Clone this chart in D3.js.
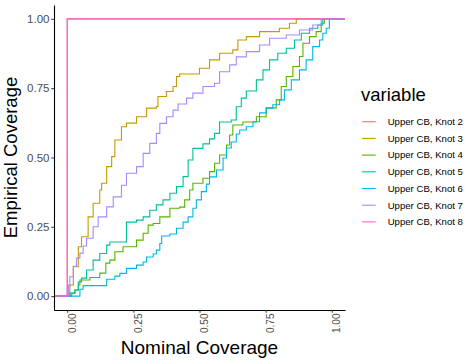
<!DOCTYPE html>
<html>
<head>
<meta charset="utf-8">
<script src="https://cdn.jsdelivr.net/npm/d3@7"></script>
<style>
  body { margin: 0; background: #fff; }
  text { font-family: "Liberation Sans", Arial, sans-serif; }
</style>
</head>
<body>
<script>
// series names, same order as the legend (ggplot default hue palette)
var variables = ["Upper CB, Knot 2", "Upper CB, Knot 3", "Upper CB, Knot 4", "Upper CB, Knot 5",
                 "Upper CB, Knot 6", "Upper CB, Knot 7", "Upper CB, Knot 8"];
var colors = ["#F8766D", "#C49A00", "#53B400", "#00C094", "#00B6EB", "#A58AFF", "#FB61D7"];

var xTicks = [0, 0.25, 0.5, 0.75, 1];
var yTicks = [0, 0.25, 0.5, 0.75, 1];

// [nominal, empirical] step points
var knot2 = [[0, 1]];
var knot3 = [[0, 0], [0.01, 0.04], [0.023, 0.106], [0.042, 0.178], [0.054, 0.214], [0.079, 0.286],
  [0.098, 0.335], [0.123, 0.383], [0.13, 0.407], [0.149, 0.467], [0.168, 0.503], [0.18, 0.563],
  [0.205, 0.611], [0.224, 0.624], [0.262, 0.647], [0.3, 0.678], [0.337, 0.684], [0.343, 0.72],
  [0.375, 0.738], [0.4, 0.756], [0.413, 0.792], [0.425, 0.801], [0.5, 0.822], [0.538, 0.852],
  [0.576, 0.876], [0.626, 0.888], [0.645, 0.924], [0.677, 0.936], [0.727, 0.954], [0.802, 0.966],
  [0.84, 0.984], [0.866, 1]];
var knot4 = [[0, 0], [0.017, 0.01], [0.029, 0.022], [0.042, 0.04], [0.048, 0.058], [0.086, 0.067],
  [0.123, 0.083], [0.146, 0.119], [0.161, 0.13], [0.18, 0.16], [0.211, 0.178], [0.262, 0.202],
  [0.287, 0.227], [0.306, 0.256], [0.325, 0.262], [0.35, 0.286], [0.388, 0.317], [0.425, 0.321],
  [0.444, 0.347], [0.463, 0.383], [0.475, 0.407], [0.513, 0.425], [0.538, 0.449], [0.557, 0.479],
  [0.576, 0.509], [0.602, 0.545], [0.614, 0.581], [0.626, 0.617], [0.664, 0.628], [0.715, 0.647],
  [0.752, 0.679], [0.79, 0.708], [0.809, 0.756], [0.828, 0.792], [0.853, 0.828], [0.878, 0.864],
  [0.891, 0.912], [0.916, 0.936], [0.941, 0.954], [0.96, 0.984], [0.972, 1]];
var knot5 = [[0, 0], [0.01, 0.011], [0.029, 0.022], [0.042, 0.051], [0.054, 0.065], [0.073, 0.094],
  [0.098, 0.13], [0.123, 0.154], [0.149, 0.184], [0.161, 0.195], [0.205, 0.195], [0.224, 0.267],
  [0.262, 0.274], [0.287, 0.286], [0.312, 0.31], [0.337, 0.329], [0.362, 0.347], [0.388, 0.371],
  [0.413, 0.395], [0.438, 0.431], [0.457, 0.491], [0.475, 0.533], [0.513, 0.549], [0.538, 0.567],
  [0.557, 0.587], [0.576, 0.628], [0.62, 0.635], [0.639, 0.683], [0.658, 0.714], [0.677, 0.74],
  [0.715, 0.78], [0.74, 0.816], [0.765, 0.852], [0.796, 0.876], [0.828, 0.894], [0.859, 0.924],
  [0.885, 0.948], [0.916, 0.966], [0.947, 0.978], [0.966, 1]];
var knot6 = [[0, 0], [0.042, 0], [0.048, 0.025], [0.06, 0.038], [0.136, 0.038], [0.149, 0.061],
  [0.18, 0.072], [0.199, 0.082], [0.224, 0.1], [0.262, 0.112], [0.287, 0.123], [0.3, 0.141],
  [0.325, 0.152], [0.337, 0.166], [0.35, 0.19], [0.357, 0.217], [0.388, 0.224], [0.413, 0.245],
  [0.438, 0.267], [0.457, 0.286], [0.475, 0.317], [0.488, 0.347], [0.507, 0.377], [0.526, 0.404],
  [0.538, 0.43], [0.564, 0.455], [0.589, 0.498], [0.602, 0.534], [0.62, 0.556], [0.639, 0.585],
  [0.652, 0.599], [0.677, 0.611], [0.702, 0.629], [0.727, 0.661], [0.752, 0.678], [0.777, 0.69],
  [0.803, 0.708], [0.821, 0.744], [0.847, 0.78], [0.878, 0.816], [0.903, 0.852], [0.928, 0.9],
  [0.954, 0.924], [0.966, 0.948], [0.979, 0.966], [0.991, 1]];
var knot7 = [[0, 0], [0.005, 0.04], [0.01, 0.07], [0.023, 0.108], [0.035, 0.137], [0.048, 0.155],
  [0.06, 0.181], [0.073, 0.209], [0.098, 0.25], [0.117, 0.286], [0.149, 0.322], [0.174, 0.358],
  [0.205, 0.4], [0.224, 0.443], [0.262, 0.467], [0.287, 0.515], [0.312, 0.551], [0.337, 0.587],
  [0.35, 0.623], [0.375, 0.647], [0.4, 0.671], [0.419, 0.693], [0.451, 0.714], [0.475, 0.732],
  [0.513, 0.756], [0.557, 0.768], [0.576, 0.809], [0.614, 0.834], [0.639, 0.863], [0.677, 0.882],
  [0.727, 0.906], [0.765, 0.93], [0.828, 0.942], [0.878, 0.96], [0.928, 0.978], [0.96, 1]];
var knot8 = [[0, 1]];

var series = [knot2, knot3, knot4, knot5, knot6, knot7, knot8];

var width = 474, height = 364;
var margin = {top: 5, right: 129, bottom: 54, left: 54};

var svg = d3.select("body").append("svg")
  .attr("width", width)
  .attr("height", height);

var x = d3.scaleLinear()
  .domain([-0.05, 1.05])
  .range([margin.left, width - margin.right]);
var y = d3.scaleLinear()
  .domain([-0.05, 1.05])
  .range([height - margin.bottom, margin.top]);

// ecdf style: pad every series out to both panel edges
var line = d3.line()
  .x(function(d) { return x(d[0]); })
  .y(function(d) { return y(d[1]); })
  .curve(d3.curveStepAfter);

svg.selectAll(".series")
  .data(series)
  .enter().append("path")
    .attr("class", "series")
    .attr("fill", "none")
    .attr("stroke", function(d, i) { return colors[i]; })
    .attr("stroke-width", 1.1)
    .attr("d", function(d) {
      return line([[x.domain()[0], 0]].concat(d, [[x.domain()[1], 1]]));
    });

// axes
var fmt = d3.format(".2f");

var gx = svg.append("g")
  .attr("transform", "translate(0," + (height - margin.bottom) + ")")
  .call(d3.axisBottom(x).tickValues(xTicks).tickFormat(fmt).tickSize(2.75).tickSizeOuter(0));
gx.selectAll(".tick line").attr("stroke", "#333");
gx.select(".domain").attr("stroke", "#000").attr("stroke-width", 1.1);
gx.selectAll(".tick text")
  .attr("transform", "rotate(-90)")
  .attr("x", -3.5)
  .attr("y", 8)
  .attr("dy", null)
  .attr("text-anchor", "end")
  .attr("fill", "#4D4D4D")
  .attr("font-size", 10);

var gy = svg.append("g")
  .attr("transform", "translate(" + margin.left + ",0)")
  .call(d3.axisLeft(y).tickValues(yTicks).tickFormat(fmt).tickSize(2.75).tickSizeOuter(0));
gy.selectAll(".tick line").attr("stroke", "#333");
gy.select(".domain").attr("stroke", "#000").attr("stroke-width", 1.1);
gy.selectAll(".tick text")
  .attr("x", -4.5)
  .attr("fill", "#4D4D4D")
  .attr("font-size", 11.5);

// axis titles
svg.append("text")
  .attr("x", (x.range()[0] + x.range()[1]) / 2)
  .attr("y", 354)
  .attr("text-anchor", "middle")
  .attr("font-size", 19)
  .text("Nominal Coverage");

svg.append("text")
  .attr("transform", "translate(17," + (y.range()[0] + y.range()[1]) / 2 + ")rotate(-90)")
  .attr("text-anchor", "middle")
  .attr("font-size", 18.5)
  .text("Empirical Coverage");

// legend
var legend = svg.append("g").attr("transform", "translate(361,0)");
legend.append("text")
  .attr("x", 0)
  .attr("y", 101)
  .attr("font-size", 18.5)
  .text("variable");

var item = legend.selectAll(".item")
  .data(variables)
  .enter().append("g")
    .attr("class", "item")
    .attr("transform", function(d, i) { return "translate(0," + (121.7 + i * 16.7) + ")"; });
item.append("line")
  .attr("x1", 1).attr("x2", 14.7)
  .attr("stroke", function(d, i) { return colors[i]; })
  .attr("stroke-width", 1.1);
item.append("text")
  .attr("x", 26.7)
  .attr("dy", "0.35em")
  .attr("font-size", 9.6)
  .text(function(d) { return d; });
</script>
</body>
</html>
